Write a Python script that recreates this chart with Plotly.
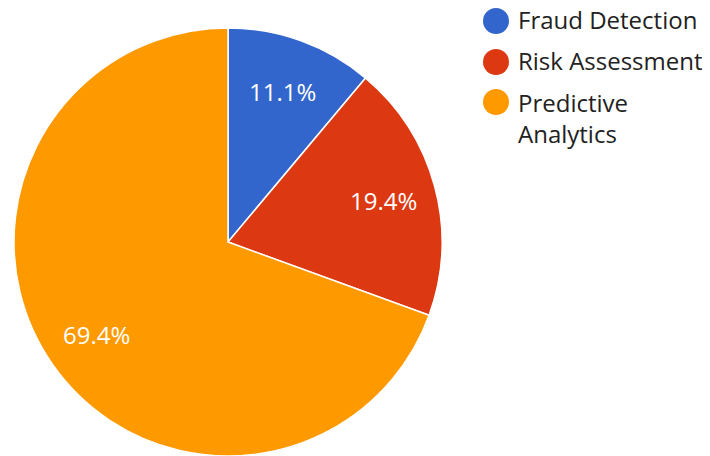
import math
import plotly.graph_objects as go

labels = ["Fraud Detection", "Risk Assessment", "Predictive Analytics"]
legend_labels = ["Fraud Detection", "Risk Assessment", "Predictive<br>Analytics"]
values = [4, 7, 25]
colors = ["#3366cc", "#dc3912", "#ff9900"]

W, H = 702, 448
FONT = "Open Sans"
MT, MB = 20, 0
PH = H - MT - MB          # plot area height
CX, CY, R = 220, 234, 214  # pie centre / radius in figure pixels

def px(x):
    return x / W

def py(y):
    return 1 - (y - MT) / PH

fig = go.Figure()
fig.add_trace(go.Pie(
    labels=labels, values=values, sort=False, direction="clockwise", rotation=0,
    marker=dict(colors=colors, line=dict(color="white", width=1.5)),
    textinfo="none",
    domain=dict(x=[px(CX - R), px(CX + R)], y=[0, 1]),
    showlegend=False, hoverinfo="label+percent",
))

shapes = []
annotations = []

# slice percentage labels, positioned from the data
total = sum(values)
cum = 0
for v in values:
    mid = (cum + v / 2) / total * 2 * math.pi
    cum += v
    r = 0.75 * R
    x = CX + r * math.sin(mid)
    y = CY - r * math.cos(mid)
    annotations.append(dict(xref="paper", yref="paper", x=px(x), y=py(y),
                            xanchor="center", yanchor="middle", showarrow=False,
                            text=f"{v / total * 100:.1f}%",
                            font=dict(family=FONT, size=24, color="white")))

# legend
ys = [13, 54, 94]
for i, (lab, col) in enumerate(zip(legend_labels, colors)):
    yc = ys[i]
    shapes.append(dict(type="circle", xref="paper", yref="paper",
                       x0=px(475), x1=px(501), y0=py(yc + 13), y1=py(yc - 13),
                       fillcolor=col, line=dict(width=0)))
    if "<br>" in lab:
        ya, yy = "top", yc - 18
    else:
        ya, yy = "middle", yc - 1.5
    annotations.append(dict(xref="paper", yref="paper", x=px(508), y=py(yy),
                            xanchor="left", yanchor=ya, align="left", showarrow=False,
                            text=lab, font=dict(family=FONT, size=24, color="#222222")))

fig.update_layout(
    width=W, height=H,
    margin=dict(l=0, r=0, t=MT, b=MB),
    paper_bgcolor="white", plot_bgcolor="white",
    shapes=shapes, annotations=annotations,
    font=dict(family=FONT),
)
fig.write_html("out.html")
